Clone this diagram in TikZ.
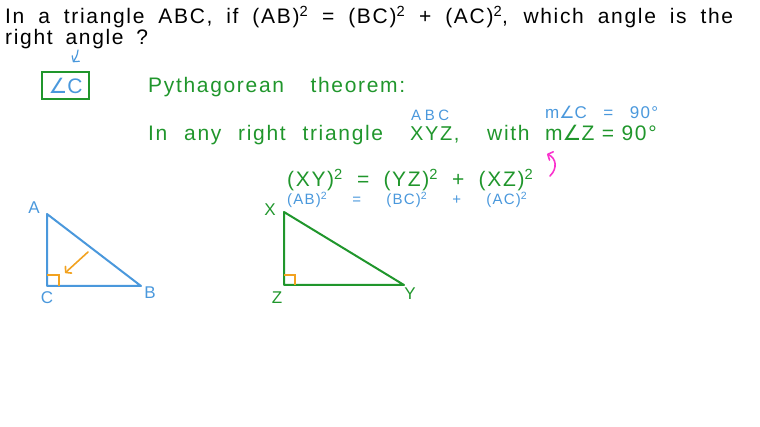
\documentclass[tikz,border=0pt]{standalone}
\usepackage{fontspec}
\setmainfont[LetterSpace=8]{Liberation Sans}
\newfontfamily\symfont{DejaVu Sans}
\usetikzlibrary{
    calc,
    positioning,
    arrows.meta
}
\definecolor{hwgreen}{RGB}{32,150,44}
\definecolor{hwblue}{RGB}{74,152,220}
\definecolor{hworange}{RGB}{242,162,32}
\definecolor{hwpink}{RGB}{250,50,205}
\newcommand{\ang}{{\symfont ∠}}
\newcommand{\sq}{\textsuperscript{2}}
\newcommand{\spread}[2]{\makebox[#1][s]{#2}}

\begin{document}
\begin{tikzpicture}[x=1pt, y=-1pt,
    txt/.style={inner sep=0pt, anchor=base west, font=\fontsize{21}{25}\selectfont},
    gtxt/.style={txt, text=hwgreen},
    btxt/.style={inner sep=0pt, anchor=base west, text=hwblue, font=\fontsize{15}{18}\selectfont},
    lbl/.style={inner sep=0pt, font=\fontsize{17}{20}\selectfont},
    side/.style={line width=2pt, line join=round},
    rtmark/.style={hworange, line width=1.3pt},
    hand/.style={line width=1.6pt, line cap=round, -{Straight Barb[length=4pt, width=9pt, round]}}
]
    \useasboundingbox (0, 0) rectangle (760, 427);
    % question
    \node[txt] (q1) at (5, 24) {\spread{728pt}{In a triangle ABC, if (AB)\sq{} = (BC)\sq{} + (AC)\sq{}, which angle is the}};
    \node[txt] (q2) at (5, 45) {\spread{143pt}{right angle ?}};
    % answer box
    \node[draw=hwgreen, line width=1.6pt, text=hwblue, minimum width=47pt, minimum height=27pt,
        font=\fontsize{21}{25}\selectfont] (ans) at (65.5, 85.5) {\ang C};
    \coordinate (hint) at (78, 50);
    \draw[hand, hwblue, line width=1.2pt] (hint) to[bend left=15] ($(ans.north)+(7.5, -9)$);
    % theorem
    \node[gtxt] (thm) at (148, 93) {\spread{257pt}{Pythagorean theorem:}};
    \node[gtxt] (any) at (148, 141) {\spread{235pt}{In any right triangle}};
    \node[gtxt, font=\fontsize{20}{24}\selectfont] (xyz) at (410, 141) {XYZ,};
    \node[btxt] (abc) at (411, 121) {\spread{37pt}{A B C}};
    \node[gtxt] (with) at (487, 141) {with};
    \node[gtxt] (mz) at (545, 141) {m\ang Z = 90°};
    \node[btxt, font=\fontsize{17}{20}\selectfont] (mc) at (545, 119) {\spread{113pt}{m\ang C = 90°}};
    \coordinate (pk1) at (550, 176);
    \coordinate (pk2) at (547, 154);
    \draw[hand, hwpink] (pk1) .. controls (558, 168) and (556, 158) .. (pk2);
    % equations
    \node[gtxt] (eqg) at (287, 187) {\spread{246pt}{(XY)\sq{} = (YZ)\sq{} + (XZ)\sq}};
    \node[btxt] (eqb) at (287, 205) {\spread{240pt}{(AB)\sq{} = (BC)\sq{} + (AC)\sq}};
    % triangle ABC
    \begin{scope}[hwblue]
        \coordinate (A) at (47, 214);
        \coordinate (C) at (47, 286);
        \coordinate (B) at (141, 286);
        \draw[side] (A) -- (B) -- (C) -- cycle;
        \node[lbl] (la) at (34, 208) {A};
        \node[lbl] (lc) at (47, 298) {C};
        \node[lbl] (lb) at (150, 293) {B};
    \end{scope}
    \draw[rtmark] ($(C)+(0, -11)$) -- ($(C)+(12, -11)$) -- ($(C)+(12, 0)$);
    \coordinate (ar1) at (88, 252);
    \coordinate (ar2) at (65, 273);
    \draw[hand, hworange] (ar1) -- (ar2);
    % triangle XYZ
    \begin{scope}[hwgreen]
        \coordinate (X) at (284, 212);
        \coordinate (Z) at (284, 285);
        \coordinate (Y) at (404, 285);
        \draw[side] (X) -- (Y) -- (Z) -- cycle;
        \node[lbl] (lx) at (270, 210) {X};
        \node[lbl] (lz) at (277, 298) {Z};
        \node[lbl] (ly) at (410, 294) {Y};
    \end{scope}
    \draw[rtmark] ($(Z)+(0, -10)$) -- ($(Z)+(11, -10)$) -- ($(Z)+(11, 0)$);
\end{tikzpicture}
\end{document}
